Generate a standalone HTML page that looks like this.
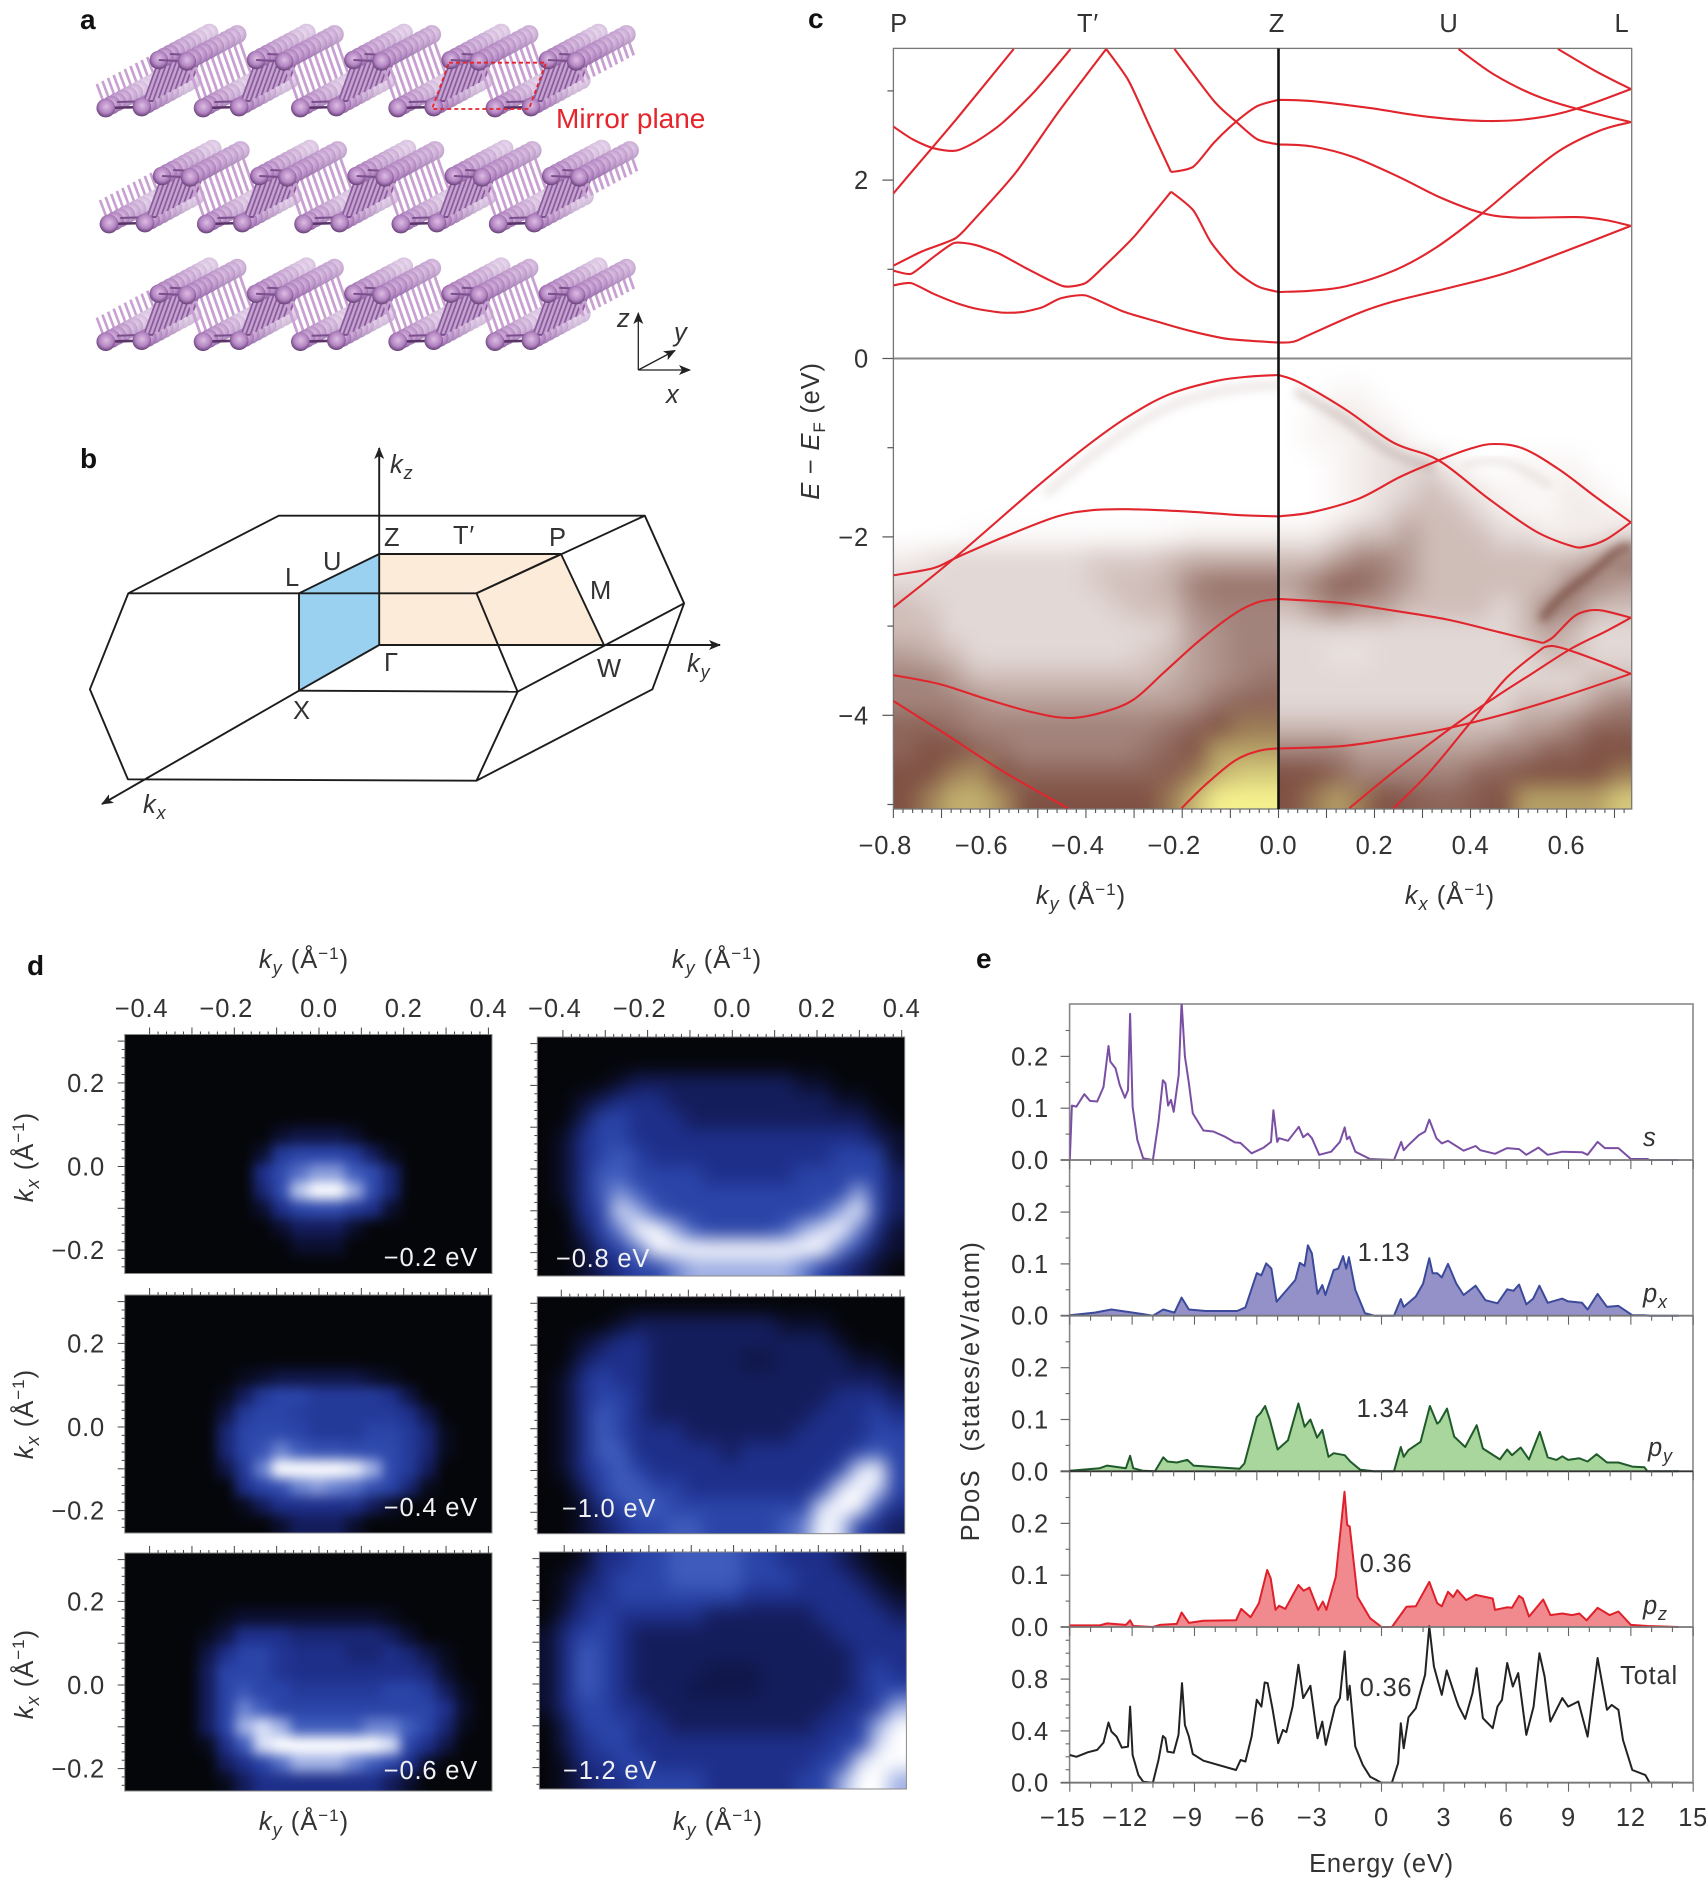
<!DOCTYPE html>
<html lang="en">
<head>
<meta charset="utf-8">
<title>Band structure of black phosphorus figure</title>
<style>
html,body{margin:0;padding:0;background:#fff}
svg{display:block;font-family:"Liberation Sans",sans-serif}
.t{font-size:25.5px;fill:#333;letter-spacing:.8px}
.ti{font-size:25.5px;fill:#333;letter-spacing:1px}
.sub{font-size:18px;font-style:italic}
.sup{font-size:17px}
.i{font-style:italic}
.b{font-size:28px;font-weight:bold;fill:#111}
.w{font-size:25.5px;fill:#f2f2f2;letter-spacing:.8px}
</style>
</head>
<body>
<svg id="fig" xmlns="http://www.w3.org/2000/svg" width="1706" height="1880" viewBox="0 0 1706 1880">
<defs id="defs">
  <filter id="blurC" x="-20%" y="-20%" width="140%" height="140%" color-interpolation-filters="sRGB"><feGaussianBlur stdDeviation="11"/></filter>
  <filter id="blurD" x="-20%" y="-20%" width="140%" height="140%" color-interpolation-filters="sRGB"><feGaussianBlur stdDeviation="6"/></filter>
  <filter id="blurD2" x="-20%" y="-20%" width="140%" height="140%" color-interpolation-filters="sRGB"><feGaussianBlur stdDeviation="9"/></filter>
  <filter id="blurS" x="-20%" y="-20%" width="140%" height="140%" color-interpolation-filters="sRGB"><feGaussianBlur stdDeviation="4.5"/></filter>
  <clipPath id="clipCL"><rect x="893.4" y="358.5" width="385.1" height="450.5"/></clipPath>
  <clipPath id="clipCR"><rect x="1278.5" y="358.5" width="353.2" height="450.5"/></clipPath>
  <clipPath id="clipC"><rect x="893.4" y="48.4" width="738.3" height="760.6"/></clipPath>
  <clipPath id="clipE"><rect x="1069.6" y="1004" width="623.4" height="778.7"/></clipPath>
  <marker id="arrow" viewBox="0 0 12 10" refX="11" refY="5" markerWidth="12" markerHeight="10" markerUnits="userSpaceOnUse" orient="auto"><path d="M0 0L12 5L0 10L3 5Z" fill="#222"/></marker>
</defs>

<text class="b" x="80" y="29">a</text>
<text class="b" x="80" y="468">b</text>
<text class="b" x="808" y="28">c</text>
<text class="b" x="27" y="975">d</text>
<text class="b" x="976" y="968">e</text>

<g id="crystal"></g>
<g>
  <polygon points="449,62.7 546,62.7 529,109 432,109" fill="none" stroke="#e5252c" stroke-width="1.8" stroke-dasharray="4 3"/>
  <text x="556" y="128" font-size="28" fill="#e5252c">Mirror plane</text>
</g>
<g>
  <line x1="638.3" y1="370" x2="638.3" y2="313" stroke="#222" stroke-width="1.3" marker-end="url(#arrow)"/>
  <line x1="638.3" y1="370" x2="675" y2="350.5" stroke="#222" stroke-width="1.3" marker-end="url(#arrow)"/>
  <line x1="638.3" y1="370" x2="690" y2="370" stroke="#222" stroke-width="1.3" marker-end="url(#arrow)"/>
  <text class="t i" x="617" y="327">z</text><text class="t i" x="674" y="341">y</text><text class="t i" x="666" y="403">x</text>
</g>

<g id="bz">
  <polygon points="379.2,554 561,554 604,645 379.2,645" fill="#fdebd9"/>
  <polygon points="299,593.3 379.2,554 379.2,645 299,690.7" fill="#9ad0f0"/>
  <g fill="none" stroke="#1c1c1c" stroke-width="1.9" stroke-linejoin="round">
    <polyline points="128.3,593.3 278.8,515.7 644.8,515.7 476.5,593.3 128.3,593.3 89.9,689.3 127.9,779.3 476.5,780.7 517.6,691.7 476.5,593.3"/>
    <polyline points="644.8,515.7 684.1,603.3 652.4,689.3 476.5,780.7"/>
    <line x1="299" y1="690.7" x2="517.6" y2="691.7"/>
    <line x1="517.6" y1="691.7" x2="684.1" y2="603.3"/>
    <line x1="379.2" y1="554" x2="561" y2="554"/>
    <line x1="561" y1="554" x2="476.5" y2="593.3"/>
    <line x1="561" y1="554" x2="604" y2="645"/>
    <line x1="299" y1="593.3" x2="379.2" y2="554"/>
    <line x1="299" y1="593.3" x2="299" y2="690.7"/>
    <line x1="379.2" y1="645" x2="299" y2="690.7"/>
    <line x1="299" y1="690.7" x2="102" y2="804" marker-end="url(#arrow)"/>
    <line x1="379.2" y1="645" x2="379.2" y2="448" marker-end="url(#arrow)"/>
    <line x1="379.2" y1="645" x2="720" y2="645" marker-end="url(#arrow)"/>
  </g>
  <text class="t i" x="390" y="473">k<tspan class="sub" dy="6">z</tspan></text>
  <text class="t" x="384" y="546">Z</text>
  <text class="t" x="453" y="544">T′</text>
  <text class="t" x="549" y="546">P</text>
  <text class="t" x="323" y="570">U</text>
  <text class="t" x="285" y="586">L</text>
  <text class="t" x="590" y="599">M</text>
  <text class="t" x="384" y="671">Γ</text>
  <text class="t" x="597" y="677">W</text>
  <text class="t i" x="687" y="672">k<tspan class="sub" dy="6">y</tspan></text>
  <text class="t" x="293" y="719">X</text>
  <text class="t i" x="143" y="813">k<tspan class="sub" dy="6">x</tspan></text>
</g>

<g id="panelC"></g>
<g>
  <text class="t" x="899" y="32" text-anchor="middle">P</text>
  <text class="t" x="1088" y="32" text-anchor="middle">T′</text>
  <text class="t" x="1277" y="32" text-anchor="middle">Z</text>
  <text class="t" x="1449" y="32" text-anchor="middle">U</text>
  <text class="t" x="1622" y="32" text-anchor="middle">L</text>
  <text class="ti" x="1081" y="904" text-anchor="middle"><tspan class="i">k</tspan><tspan class="sub" dy="6">y</tspan><tspan dy="-6"> (Å</tspan><tspan class="sup" dy="-9">−1</tspan><tspan dy="9">)</tspan></text>
  <text class="ti" x="1450" y="904" text-anchor="middle"><tspan class="i">k</tspan><tspan class="sub" dy="6">x</tspan><tspan dy="-6"> (Å</tspan><tspan class="sup" dy="-9">−1</tspan><tspan dy="9">)</tspan></text>
  <text class="t" transform="translate(819 431) rotate(-90)" text-anchor="middle"><tspan class="i">E</tspan> − <tspan class="i">E</tspan><tspan font-size="17" dy="6">F</tspan><tspan dy="-6"> (eV)</tspan></text>
</g>

<g id="panelD"></g>
<g>
  <text class="ti" x="304" y="968" text-anchor="middle"><tspan class="i">k</tspan><tspan class="sub" dy="6">y</tspan><tspan dy="-6"> (Å</tspan><tspan class="sup" dy="-9">−1</tspan><tspan dy="9">)</tspan></text>
  <text class="ti" x="717" y="968" text-anchor="middle"><tspan class="i">k</tspan><tspan class="sub" dy="6">y</tspan><tspan dy="-6"> (Å</tspan><tspan class="sup" dy="-9">−1</tspan><tspan dy="9">)</tspan></text>
  <text class="ti" x="304" y="1830" text-anchor="middle"><tspan class="i">k</tspan><tspan class="sub" dy="6">y</tspan><tspan dy="-6"> (Å</tspan><tspan class="sup" dy="-9">−1</tspan><tspan dy="9">)</tspan></text>
  <text class="ti" x="718" y="1830" text-anchor="middle"><tspan class="i">k</tspan><tspan class="sub" dy="6">y</tspan><tspan dy="-6"> (Å</tspan><tspan class="sup" dy="-9">−1</tspan><tspan dy="9">)</tspan></text>
  <text class="ti" transform="translate(33 1157) rotate(-90)" text-anchor="middle"><tspan class="i">k</tspan><tspan class="sub" dy="6">x</tspan><tspan dy="-6"> (Å</tspan><tspan class="sup" dy="-9">−1</tspan><tspan dy="9">)</tspan></text>
  <text class="ti" transform="translate(33 1414) rotate(-90)" text-anchor="middle"><tspan class="i">k</tspan><tspan class="sub" dy="6">x</tspan><tspan dy="-6"> (Å</tspan><tspan class="sup" dy="-9">−1</tspan><tspan dy="9">)</tspan></text>
  <text class="ti" transform="translate(33 1674) rotate(-90)" text-anchor="middle"><tspan class="i">k</tspan><tspan class="sub" dy="6">x</tspan><tspan dy="-6"> (Å</tspan><tspan class="sup" dy="-9">−1</tspan><tspan dy="9">)</tspan></text>
</g>

<g id="panelE"></g>
<g>
  <text class="t" x="1381.5" y="1872" text-anchor="middle" font-size="26">Energy (eV)</text>
  <text class="t" style="letter-spacing:1.5px" transform="translate(979 1391) rotate(-90)" text-anchor="middle" xml:space="preserve">PDoS  (states/eV/atom)</text>
  <text class="t" x="1384" y="1261" text-anchor="middle">1.13</text>
  <text class="t" x="1383" y="1417" text-anchor="middle">1.34</text>
  <text class="t" x="1386" y="1572" text-anchor="middle">0.36</text>
  <text class="t" x="1386" y="1696" text-anchor="middle">0.36</text>
  <text class="t i" x="1643" y="1146">s</text>
  <text class="t i" x="1643" y="1302">p<tspan class="sub" dy="6">x</tspan></text>
  <text class="t i" x="1648" y="1456">p<tspan class="sub" dy="6">y</tspan></text>
  <text class="t i" x="1643" y="1614">p<tspan class="sub" dy="6">z</tspan></text>
  <text class="t" x="1649" y="1684" text-anchor="middle">Total</text>
</g>
</svg>

<script>
/* ---------- panel c: band values (k in 1/Å, E in eV) ---------- */
const vbL1k=[-0.8,-0.68,-0.496,-0.398,-0.312,-0.226,-0.128,-0.054,0];
const vbL1e=[-2.79,-2.27,-1.41,-0.98,-0.65,-0.40,-0.25,-0.20,-0.185];
const vbL2k=[-0.8,-0.717,-0.668,-0.57,-0.459,-0.385,-0.312,-0.177,-0.079,0];
const vbL2e=[-2.43,-2.35,-2.23,-2.0,-1.77,-1.70,-1.69,-1.72,-1.757,-1.77];
const vbL3k=[-0.8,-0.704,-0.606,-0.508,-0.434,-0.361,-0.3,-0.238,-0.164,-0.091,-0.042,0];
const vbL3e=[-3.55,-3.65,-3.82,-3.97,-4.03,-3.96,-3.82,-3.52,-3.16,-2.86,-2.73,-2.695];
const vbL4k=[-0.8,-0.692,-0.569,-0.438];
const vbL4e=[-3.84,-4.21,-4.64,-5.04];
const vbL5k=[-0.201,-0.152,-0.091,-0.042,0];
const vbL5e=[-5.04,-4.78,-4.51,-4.40,-4.37];
const cbL1k=[-0.8,-0.763,-0.717,-0.668,-0.625,-0.575,-0.533,-0.49,-0.453,-0.401,-0.324,-0.25,-0.177,-0.103,0];
const cbL1e=[0.82,0.845,0.727,0.62,0.555,0.515,0.52,0.575,0.674,0.707,0.53,0.41,0.30,0.218,0.178];
const cbL2ak=[-0.8,-0.763,-0.717,-0.674,-0.631,-0.582,-0.52,-0.447,-0.401,-0.361,-0.3,-0.223];
const cbL2ae=[0.984,0.95,1.136,1.295,1.275,1.18,1.0,0.81,0.845,1.04,1.367,1.87];
const cbL2bk=[-0.223,-0.177,-0.14,-0.091,-0.042,0];
const cbL2be=[1.87,1.66,1.30,0.99,0.806,0.746];
const cbL3ak=[-0.8,-0.741,-0.671,-0.631,-0.545,-0.459,-0.358];
const cbL3ae=[1.04,1.2,1.347,1.565,2.09,2.75,3.47];
const cbL3bk=[-0.358,-0.312,-0.269,-0.223];
const cbL3be=[3.47,3.12,2.62,2.09];
const cbL3ck=[-0.223,-0.177,-0.134,-0.088,-0.044,0];
const cbL3ce=[2.09,2.15,2.42,2.655,2.83,2.9];
const cbL4k=[-0.8,-0.741,-0.668,-0.55];
const cbL4e=[1.85,2.226,2.69,3.47];
const cbL5k=[-0.8,-0.76,-0.717,-0.671,-0.627,-0.575,-0.508,-0.432];
const cbL5e=[2.6,2.457,2.358,2.33,2.437,2.635,2.985,3.47];
const cbL6k=[-0.216,-0.134,-0.088,-0.044,0];
const cbL6e=[3.47,2.886,2.655,2.457,2.4];
const vbR1k=[0,0.044,0.142,0.24,0.333,0.437,0.535,0.609,0.639,0.682,0.734];
const vbR1e=[-0.185,-0.27,-0.58,-0.945,-1.14,-1.57,-1.935,-2.1,-2.11,-2.03,-1.836];
const vbR2k=[0,0.069,0.167,0.253,0.333,0.4,0.449,0.51,0.584,0.658,0.734];
const vbR2e=[-1.77,-1.724,-1.572,-1.328,-1.143,-1.01,-0.958,-1.01,-1.242,-1.54,-1.836];
const vbR3ak=[0,0.13,0.24,0.351,0.461,0.551];
const vbR3ae=[-2.695,-2.74,-2.827,-2.926,-3.07,-3.19];
const vbR3bk=[0.551,0.572,0.615,0.645,0.676,0.734];
const vbR3be=[-3.19,-3.124,-2.893,-2.827,-2.827,-2.906];
const vbR4k=[0.148,0.253,0.375,0.455,0.523,0.609,0.682,0.734];
const vbR4e=[-5.04,-4.577,-4.08,-3.785,-3.55,-3.256,-3.058,-2.906];
const vbR5ak=[0.24,0.314,0.4,0.474,0.553];
const vbR5ae=[-5.04,-4.64,-4.08,-3.586,-3.236];
const vbR5bk=[0.553,0.572,0.609,0.682,0.734];
const vbR5be=[-3.236,-3.223,-3.276,-3.42,-3.534];
const vbR6k=[0,0.13,0.24,0.351,0.474,0.596,0.734];
const vbR6e=[-4.372,-4.346,-4.26,-4.148,-3.983,-3.785,-3.534];
const cbR1k=[0,0.032,0.069,0.167,0.24,0.351,0.474,0.596,0.734];
const cbR1e=[0.178,0.19,0.277,0.509,0.64,0.786,0.958,1.2,1.486];
const cbR2k=[0,0.069,0.142,0.24,0.326,0.425,0.498,0.584,0.67,0.734];
const cbR2e=[0.746,0.76,0.812,0.984,1.235,1.63,1.96,2.325,2.556,2.65];
const cbR3k=[0,0.069,0.155,0.253,0.339,0.425,0.498,0.621,0.682,0.734];
const cbR3e=[2.4,2.378,2.26,2.03,1.8,1.63,1.58,1.585,1.552,1.486];
const cbR4k=[0,0.069,0.191,0.314,0.437,0.535,0.621,0.734];
const cbR4e=[2.9,2.886,2.807,2.708,2.662,2.695,2.8,3.02];
const cbR5k=[0.375,0.449,0.535,0.621,0.734];
const cbR5e=[3.47,3.184,2.95,2.8,2.65];
const cbR6k=[0.582,0.658,0.734];
const cbR6e=[3.47,3.23,3.02];
const arpesStreakK=[0.548,0.59,0.66,0.708,0.736];
const arpesStreakE=[-2.93,-2.67,-2.37,-2.15,-2.11];
const bandTickK=[-0.8,-0.6,-0.4,-0.2,0,0.2,0.4,0.6];
const bandTickE=[2,0,-2,-4];

/* panel c: photoemission intensity rows (E = 0 downward) */
const arpesLeft=[
[0,0,0,0,0,0,0,0,0,0,0,0,0,0,0,0],
[0,0,0,0,0,0,0,0,0,0,0,0,0,0,0,0],
[0,0,0,0,0,0,0,0,0,0,0,0,0,0,0,0],
[0,0,0,0,0,0,0,0,0,0,0,0,0,0,0,0],
[0,0,0,0,0,0,0,0,0,0,0,0,0,0,0,0],
[0,0,0,0,0,0,0,0,0,0,0,0,0,0,0,0],
[0,0,0,0,0,0,0,0,0,0,0,0,0,0,0,0],
[0,0,0,0.3,0.3,0.3,0.3,0.3,0.3,0.3,0.3,0.5,0.8,0.8,0.8,0.8],
[1,1.5,2,2,2,2,2,2,2.5,2.5,2.5,3,3.5,3.5,3.5,3.5],
[2,2,2,2,2,2,2,2,2.5,3,3,3.5,5,5.5,5.5,5.5],
[3,2.5,2,2,2,2,2,2,2,2.5,3,3,4.5,5,5,5],
[3,3,2,2,2,2,2,2,2,2,2,2.5,4,4.5,5,5],
[4,3.5,3,2,2,2,2,2,2,2,2.5,3,4,4.5,5,5],
[5,5,4,3,3,3,3,3,3,3,3,3.5,4,4.5,5,5.5],
[5,5,5,4.5,4,4,4,4,4,4,4,4,4.5,5.5,6,6],
[6,6,5.5,5,5,5,5,5,5,5,5,5.5,6,7,7.5,7.5],
[6,7,7,6,5.5,5,5,5,5,5,5.5,6,7,8,8,8],
[7,7,7.6,7.8,7,6,6,6,6,6,6,6.5,7.5,8.2,8.5,8.5],
[7,7.6,8.2,8.2,7.8,7,7,7,7,7,7,7.5,8.3,9,9,9]];
const arpesRight=[
[0,0,0,0,0,0,0,0,0,0,0,0,0,0,0],
[0,0,0.5,0.5,0,0,0,0,0,0,0,0,0,0,0],
[0,0.5,1,1,0.5,0,0,0,0,0,0,0,0,0,0],
[0,0.5,0.5,1,1.5,0.5,0,0,0,0,0,0,0,0,0],
[0,0,0.5,1,1.5,2,2,0.5,0,0,0.5,0.5,0.5,0,0],
[0,0,0.5,1,1.5,2,3,2,1,0.5,0.5,0.5,1,0.5,0],
[0,0,0.5,1,2,3,3,3,2,1,0.5,0.5,1,1,0.5],
[1,1,2,3,3,4,3,3,3,2,2,1,1,1,2],
[3,3,4,5,5,4,3,3,3,3,3,3,3,4,5.5],
[4,5,6,6,5,4,3,3,3,3,3,3,5,5,4],
[3,4,5,4,4,3,3,3,3,2,3,5,5,3,3],
[2,2,2,2,2,2,2,2,2,2,3,4,3,2,2],
[2,2,1.5,1.5,2,2,2,2,2,2,2,3,3,2,2],
[2,2,2,2,2,2,2,2,2,2,2,2,2,3,3],
[2,2,2,2,2,2,2,2,2,2,3,3,3,4,5],
[3,3,3,3,3,3,3,3,3,3,4,4,5,6,6],
[5,5,5,4,4,4,4,4,4,5,5,6,6,7,7],
[7,7,6,5,5,5,5,5,6,6,7,7,7,7,7.5],
[7,7.5,8,7.5,7,6.5,6,6,6.5,7,8,8,8,8,8.5]];
const arpesLevels=['#ffffff','#f2ecea','#e2d8d5','#cfbdb8','#b89f98','#a2837b','#8e6559','#7f5144','#b5a066','#f5f18e'];

/* panel d: constant-energy map intensity rows */
const mapE02=[
[0,0,0,0,0,0,0,0,0,0,0,0,0,0,0,0,0,0,0,0],
[0,0,0,0,0,0,0,0,0,0,0,0,0,0,0,0,0,0,0,0],
[0,0,0,0,0,0,0,0,0,0,0,0,0,0,0,0,0,0,0,0],
[0,0,0,0,0,0,0,0,0,0,0,0,0,0,0,0,0,0,0,0],
[0,0,0,0,0,0,0,0,0,0,0,0,0,0,0,0,0,0,0,0],
[0,0,0,0,0,0,0,0,1,1.5,1.5,1.5,1,0,0,0,0,0,0,0],
[0,0,0,0,0,0,0,1,3.5,4,4,4,3.5,2,0.5,0,0,0,0,0],
[0,0,0,0,0,0,0,3,4.3,5.5,6.5,6.5,5,4.3,2.5,0,0,0,0,0],
[0,0,0,0,0,0,0,2.5,4.3,7.5,9,9,7,4.3,2.5,0,0,0,0,0],
[0,0,0,0,0,0,0,1,3,4,4.3,4.3,3.5,3,1,0,0,0,0,0],
[0,0,0,0,0,0,0,0,1,2,2,2,1,0,0,0,0,0,0,0],
[0,0,0,0,0,0,0,0,0,1,1,1,0,0,0,0,0,0,0,0],
[0,0,0,0,0,0,0,0,0,0,0,0,0,0,0,0,0,0,0,0]];
const mapE04=[
[0,0,0,0,0,0,0,0,0,0,0,0,0,0,0,0,0,0,0,0],
[0,0,0,0,0,0,0,0,0,0,0,0,0,0,0,0,0,0,0,0],
[0,0,0,0,0,0,0,0,0,0,0,0,0,0,0,0,0,0,0,0],
[0,0,0,0,0,0,0,0,0,0,0,0,0,0,0,0,0,0,0,0],
[0,0,0,0,0,0,0.5,1,1.5,1.5,1.5,1.5,1.5,1,0.5,0,0,0,0,0],
[0,0,0,0,0,0.5,2,3.5,4,4,3.5,3.5,3.5,3.5,3,1.5,0,0,0,0],
[0,0,0,0,0,1.5,3.5,4,4,3.7,3.5,3.5,3.5,3.5,3.5,3,1.5,0,0,0],
[0,0,0,0,0,2.5,4,4.2,4.2,4,3.5,3.5,3.5,4,4,3.5,2.5,0.5,0,0],
[0,0,0,0,0,2.5,4,4.6,6,5,4.5,4.5,4.3,4.3,4.2,3.5,2.5,0.5,0,0],
[0,0,0,0,0,1.5,3.5,6,9,9,9,9,8.5,7,4.2,3.5,2,0,0,0],
[0,0,0,0,0,0,3,4,4.5,6,6.5,6,5.5,4.5,4,2.5,0.5,0,0,0],
[0,0,0,0,0,0,0.5,2,3,3,3,3,3,2,1,0,0,0,0,0],
[0,0,0,0,0,0,0,0,1,2,2,2,1,0,0,0,0,0,0,0]];
const mapE06=[
[0,0,0,0,0,0,0,0,0,0,0,0,0,0,0,0,0,0,0,0],
[0,0,0,0,0,0,0,0,0,0,0,0,0,0,0,0,0,0,0,0],
[0,0,0,0,0,0,0,0,0,0,0,0,0,0,0,0,0,0,0,0],
[0,0,0,0,0,0.5,1,1,1,1,1,1,1,1,0.5,0,0,0,0,0],
[0,0,0,0,0.5,1.5,3,3,3,2.5,2.5,2.5,2.5,2.5,2,1,0,0,0,0],
[0,0,0,0,1.5,3,4,4,3.3,3,3,3,2.5,2.5,3,2.5,1.5,0.5,0,0],
[0,0,0,0,2,4,4,4,3.3,3,3,3,3,3,3,3,2.5,1,0,0],
[0,0,0,0,2,4,4.7,4,4,3.5,3.5,3.5,3.5,3.5,4,4,3.5,2,0.5,0],
[0,0,0,0,2,4,6,5,4,4,4,4,4,4,4,4,4,3,1,0],
[0,0,0,0,2,4,7,8,7,5,5,5,5,6,6,5,4,2.5,0.5,0],
[0,0,0,0,0.5,3,5,8,9,9,9,9,9,9,8,4,3,1.5,0,0],
[0,0,0,0,0,2,3,4,5.5,7,7,7,6,5,4,3,1,0,0,0],
[0,0,0,0,0,0.5,2,3,3,3,3,3,3,3,2,1,0,0,0,0]];
const mapE08=[
[0,0,0,0,0,0,0,0,0,0,0,0,0,0,0,0,0,0,0,0],
[0,0,0,0,0,0,0,0,0,0,0,0,0,0,0,0,0,0,0,0],
[0,0,0,0,1,2,2,2,2,2,2,2,2,2,1,1,0,0,0,0],
[0,0,1,2,3,3,3,2,2,2,2,2,2,2,2,2,1,1,0,0],
[0,0,2,4,4,3,3,3,2,2,2,2,2,2,2,2,2,2,1,0],
[0,1,3,4,4,3,3,3,3,3,3,3,3,3,3,3,3,3,2,1],
[0,1,3,4,5,4,3,3,3,3,3,3,3,3,3,3,4,4,4,1],
[0,1,3,5,5,4,4,4,4,3,3,3,3,3,4,4,4,4,4,2],
[0,1,3,5,6.5,5,4,4,4,4,4,4,4,4,4,4,4,7,4,2],
[0,0,3,4,8,7,5,4,4,4,4,4,4,4,4,5,7,8.5,4,2],
[0,0,2,4,6,9,9,7,5,4,4,4,4,5,7,8,9,6,3,1],
[0,0,1,3,4,6,9.5,9.5,9.5,9.5,9.5,9.5,9.5,9.5,9.5,9.5,6,4,2,1],
[0,0,1,2,3,4,4,6,7,7,7,7,7,7,6,4,3,2,1,0]];
const mapE10=[
[0,0,0,0,0,0,0,0,0,0,0,0,0,0,0,0,0,0,0,0],
[0,0,0,0,1,2,2,2,2,2,2,2,2,1,1,1,0,0,0,0],
[0,0,1,2,3,3,2,2,2,2,2,2,2,2,2,2,1,0,0,0],
[0,0,2,3,3,3,2,2,2,2,2,1.5,1.5,2,2,2,2,1,1,0],
[0,1,3,4,3,3,2,2,2,2,2,2,2,2,2,2,2,2,2,1],
[0,1,3,4,4,3,2,2,2,2,2,2,2,2,2,2,3,3,3,2],
[0,1,3,5,4,3,2,2,2,2,2,2,2,2,2,3,3,3,4,3],
[0,1,3,5,4,3,3,3,2,2,2,2,2,2,3,3,3,3,4,4],
[0,1,3,5,5,3,3,3,3,3,2,3,3,3,3,3,3,4,5,4],
[0,1,3,4,5,4,3,3,3,3,3,3,3,3,3,3,4,8,9,4],
[0,0,2,4,5,5,4,4,3,3,3,3,3,3,3,4,8,9.5,8,4],
[0,0,1,3,4,5,5,4,4,4,4,4,4,4,4,8,9.5,9.5,5,3],
[0,0,1,2,3,4,4,5,5,4,4,4,4,5,6,9,8,4,3,2]];
const mapE12=[
[0,0,1,3,3,4,4,5,5,5,5,4,4,3,3,3,2,1,0,0],
[0,1,2,3,4,4,4,5,5,5,5,4,4,4,3,3,3,2,1,0],
[0,1,3,3,4,4,4,4,4,4,4,3,3,3,3,3,3,3,2,1],
[0,2,3,4,3,3,3,3,3,2,2,2,2,2,2,3,3,3,3,2],
[1,3,4,4,3,2,2,2,2,2,2,2,2,2,2,2,3,3,3,3],
[1,3,5,4,3,2,2,2,2,2,2,2,2,2,2,2,2,3,3,3],
[1,3,5,4,3,2,2,2,2,1.6,1.6,1.6,2,2,2,2,2,3,4,3],
[1,3,5,4,3,2,2,2,1.6,1.6,1.6,1.6,2,2,2,2,2,3,4,4],
[1,3,4,4,3,3,2,2,2,2,2,2,2,2,2,2,3,3,4,7],
[0,2,4,4,4,3,3,2,2,2,2,2,2,2,2,3,3,4,7,9],
[0,2,3,4,4,3,3,3,3,3,3,3,3,3,3,3,4,4,8,9.5],
[0,1,3,3,4,4,3,3,3,3,3,3,3,3,3,4,4,8,9.5,9],
[0,1,2,3,3,4,4,4,4,3,3,3,3,3,4,4,7,9.5,9.5,7]];
const mapLevels=['#05060a','#0b0f2e','#141d5c','#1e2f8a','#2a44a8','#3f5cbc','#6a82d0','#a0b0e4','#d8dff6','#ffffff'];
const mapCaptions=['−0.2 eV','−0.4 eV','−0.6 eV','−0.8 eV','−1.0 eV','−1.2 eV'];
const mapTickK=[-0.4,-0.2,0,0.2,0.4];
const mapTickV=[0.2,0,-0.2];

/* panel e: projected density of states */
const sEnergy=[-15,-14.9,-14.68,-14.3,-14.03,-13.68,-13.38,-13.14,-13.05,-12.8,-12.6,-12.35,-12.2,-12.1,-11.98,-11.75,-11.47,-11,-10.73,-10.52,-10.4,-10.27,-10.13,-10,-9.76,-9.62,-9.46,-9.27,-9.08,-8.57,-8.1,-7.53,-7.06,-6.79,-6.25,-5.67,-5.32,-5.2,-5.02,-4.93,-4.5,-3.98,-3.77,-3.54,-3.35,-3,-2.42,-2,-1.77,-1.66,-1.54,-1.26,-0.56,0.6,0.95,1.07,1.3,1.8,2.1,2.3,2.64,2.9,3.2,3.95,4.53,4.76,5.46,6.04,6.62,6.97,7.55,8,8.7,9.65,9.92,10.4,10.75,11.4,12,12.8,12.9,14.3];
const sDos=[0,0.105,0.103,0.127,0.114,0.113,0.141,0.22,0.19,0.177,0.145,0.12,0.135,0.282,0.103,0.039,0.003,0,0.074,0.154,0.148,0.105,0.116,0.093,0.164,0.305,0.2,0.148,0.09,0.057,0.055,0.045,0.034,0.033,0.013,0.024,0.035,0.096,0.035,0.042,0.037,0.064,0.044,0.051,0.042,0.01,0.016,0.035,0.063,0.04,0.045,0.016,0.002,0,0.035,0.019,0.029,0.048,0.055,0.078,0.042,0.032,0.037,0.018,0.027,0.019,0.012,0.023,0.021,0.01,0.024,0.01,0.016,0.015,0.01,0.035,0.023,0.023,0.002,0.002,0,0];
const pxEnergy=[-15,-13.8,-13,-11.8,-11,-10.5,-9.96,-9.62,-9.27,-8.46,-6.95,-6.55,-6,-5.78,-5.55,-5.3,-5.05,-4.7,-4.15,-3.93,-3.7,-3.54,-3.35,-3.08,-2.85,-2.7,-2.3,-2.08,-1.85,-1.7,-1.57,-1.26,-0.8,-0.35,0.6,0.93,1.07,1.65,2,2.3,2.46,2.68,2.9,3.2,3.6,3.95,4.53,5,5.58,6.05,6.35,6.62,6.97,7.3,7.6,8,8.7,8.95,9.65,9.92,10.4,10.85,11.4,12.07,12.65,12.9,14.3];
const pxDos=[0.001,0.006,0.012,0.005,0,0.012,0.006,0.035,0.012,0.009,0.009,0.016,0.082,0.078,0.101,0.091,0.027,0.043,0.069,0.102,0.096,0.136,0.12,0.042,0.059,0.04,0.088,0.091,0.115,0.091,0.113,0.05,0.005,0,0,0.032,0.017,0.037,0.062,0.111,0.082,0.082,0.074,0.1,0.062,0.04,0.058,0.03,0.024,0.051,0.048,0.06,0.022,0.033,0.058,0.025,0.033,0.028,0.025,0.012,0.042,0.017,0.019,0.001,0.001,0,0];
const pyEnergy=[-15,-13.56,-13.2,-12.3,-12.1,-11.95,-11.47,-10.9,-10.5,-10.3,-9.85,-9.34,-9.04,-6.83,-6.6,-6,-5.83,-5.6,-5.37,-5,-4.5,-4,-3.7,-3.42,-3.1,-2.85,-2.55,-2.3,-1.77,-1.5,-1.03,-0.35,0.6,0.93,1.07,1.3,1.88,2.33,2.68,2.8,3.15,3.5,4.03,4.58,4.88,5.7,6.05,6.28,6.7,7.1,7.62,8,8.42,8.7,8.98,9.52,9.92,10.35,10.85,11.4,12.07,12.65,12.8,14.3];
const pyDos=[0.001,0.006,0.011,0.006,0.03,0.006,0.001,0,0.027,0.019,0.017,0.022,0.011,0.005,0.015,0.105,0.112,0.126,0.099,0.042,0.06,0.131,0.086,0.1,0.065,0.08,0.028,0.035,0.031,0.019,0.003,0,0,0.047,0.028,0.041,0.057,0.126,0.092,0.096,0.121,0.067,0.047,0.089,0.044,0.023,0.042,0.031,0.046,0.023,0.076,0.027,0.022,0.029,0.022,0.025,0.019,0.033,0.017,0.017,0.009,0.008,0,0];
const pzEnergy=[-15,-13.56,-13.2,-12.3,-12.1,-11.95,-11,-10.67,-9.85,-9.62,-9.27,-8.57,-7,-6.75,-6.3,-5.9,-5.5,-5.33,-5.1,-4.93,-4.63,-4,-3.75,-3.47,-3.05,-2.82,-2.65,-2.2,-1.78,-1.65,-1.53,-1.15,-0.55,0,0.5,1.2,1.65,2.3,2.68,2.9,3.2,3.45,3.65,4.07,4.53,5.35,5.46,6.05,6.28,6.62,6.8,7.1,7.78,8.13,8.7,9.17,9.52,9.87,10.4,10.98,11.4,12,12.8,14.3];
const pzDos=[0.003,0.003,0.007,0.004,0.013,0.002,0,0.004,0.006,0.028,0.008,0.012,0.013,0.035,0.019,0.046,0.11,0.094,0.033,0.041,0.035,0.081,0.07,0.076,0.033,0.049,0.033,0.097,0.261,0.197,0.194,0.058,0.017,0,0,0.039,0.04,0.087,0.046,0.04,0.068,0.058,0.071,0.052,0.062,0.055,0.033,0.038,0.037,0.06,0.055,0.02,0.053,0.023,0.026,0.023,0.026,0.013,0.037,0.023,0.03,0.004,0.002,0];
const totalEnergy=[-15,-14.68,-14.14,-13.68,-13.38,-13.14,-13,-12.75,-12.5,-12.2,-12.1,-11.98,-11.7,-11.47,-11,-10.73,-10.52,-10.4,-10.3,-10,-9.77,-9.6,-9.46,-9.27,-9.08,-8.57,-7,-6.78,-6.55,-6.25,-6,-5.78,-5.62,-5.48,-5.25,-4.97,-4.74,-4.58,-4.28,-4,-3.77,-3.42,-3.08,-2.85,-2.68,-2.24,-2,-1.77,-1.63,-1.53,-1.26,-0.9,-0.55,0,0.5,0.8,0.93,1.07,1.3,1.65,2.1,2.3,2.52,2.72,2.9,3.14,3.6,3.72,4.03,4.38,4.58,4.88,5.35,5.58,5.8,6.05,6.32,6.58,6.97,7.32,7.6,7.85,8.13,8.7,8.98,9.47,9.92,10.4,10.85,11.08,11.4,11.62,12.07,12.7,12.9,14.3];
const totalDos=[0.214,0.2,0.235,0.253,0.31,0.465,0.395,0.356,0.271,0.279,0.588,0.214,0.059,0.008,0,0.175,0.361,0.343,0.24,0.232,0.369,0.769,0.446,0.356,0.222,0.17,0.098,0.175,0.163,0.356,0.64,0.588,0.774,0.769,0.575,0.305,0.408,0.39,0.588,0.911,0.653,0.748,0.343,0.472,0.292,0.588,0.653,1.014,0.64,0.748,0.279,0.137,0.046,0,0,0.15,0.459,0.266,0.506,0.575,0.834,1.208,0.898,0.782,0.679,0.867,0.64,0.588,0.493,0.692,0.885,0.498,0.421,0.588,0.64,0.924,0.743,0.846,0.369,0.588,1,0.82,0.472,0.653,0.588,0.627,0.356,0.963,0.563,0.601,0.563,0.33,0.098,0.059,0,0];
const dosTickE=[-15,-12,-9,-6,-3,0,3,6,9,12,15];
const dosTickPartial=[0.2,0.1,0];
const dosTickTotal=[0.8,0.4,0];

/* ---------- helpers ---------- */
const NS='http://www.w3.org/2000/svg';
function mk(tag,attrs,parent,text){
  const e=document.createElementNS(NS,tag);
  for(const k in attrs){e.setAttribute(k,attrs[k]);}
  if(text!==undefined){e.textContent=text;}
  parent.appendChild(e);
  return e;
}
function fmt(v,d){const s=Math.abs(v).toFixed(d);return v<-1e-9?'−'+s:s;}
function hex(c){return [parseInt(c.slice(1,3),16),parseInt(c.slice(3,5),16),parseInt(c.slice(5,7),16)];}
function levelColor(v,levels){
  const t=Math.max(0,Math.min(levels.length-1,v));
  const i=Math.min(levels.length-2,Math.floor(t));
  const f=t-i,a=hex(levels[i]),b=hex(levels[i+1]);
  return 'rgb('+a.map((x,j)=>Math.round(x+(b[j]-x)*f)).join(',')+')';
}
function mix(c,f){const a=hex(c);return 'rgb('+a.map(x=>Math.round(x+(255-x)*f)).join(',')+')';}
function smooth(p,t){
  const q=t||6;
  let d='M'+p[0][0].toFixed(1)+' '+p[0][1].toFixed(1);
  for(let i=0;i<p.length-1;i++){
    const a=p[Math.max(0,i-1)],b=p[i],c=p[i+1],e=p[Math.min(p.length-1,i+2)];
    d+='C'+(b[0]+(c[0]-a[0])/q).toFixed(1)+' '+(b[1]+(c[1]-a[1])/q).toFixed(1)+' '+(c[0]-(e[0]-b[0])/q).toFixed(1)+' '+(c[1]-(e[1]-b[1])/q).toFixed(1)+' '+c[0].toFixed(1)+' '+c[1].toFixed(1);
  }
  return d;
}
function drawHeat(parent,rows,levels,x,y,w,h){
  const nr=rows.length,nc=rows[0].length,cw=w/nc,ch=h/nr;
  rows.forEach((row,r)=>row.forEach((v,c)=>{
    let cx=x+c*cw,cy=y+r*ch,ww=cw+1,hh=ch+1;
    if(c===0){cx-=40;ww+=40;}
    if(c===nc-1){ww+=40;}
    if(r===0){cy-=40;hh+=40;}
    if(r===nr-1){hh+=40;}
    const el=mk('rect',{x:cx.toFixed(1),y:cy.toFixed(1),width:ww.toFixed(1),height:hh.toFixed(1),fill:levelColor(v,levels)},parent);
    
    
  }));
}

/* ---------- panel a: crystal ---------- */
(function(){
  const root=document.getElementById('crystal');
  const defs=document.getElementById('defs');
  const STEPS=10,STEP=[5.6,-3];
  for(let lv=0;lv<=10;lv++){
    const g=mk('radialGradient',{id:'sph'+lv,cx:'.52',cy:'.42',r:'.6'},defs);
    const f=lv/10*.55;
    mk('stop',{offset:'0','stop-color':mix('#dcbde2',f)},g);
    mk('stop',{offset:'.6','stop-color':mix('#b384c2',f)},g);
    mk('stop',{offset:'1','stop-color':mix(lv===0?'#5f3a70':'#84589a',f)},g);
  }
  function chain(g,x,y,fade,r,rate){
    for(let i=STEPS-1;i>=0;i--){
      const f=Math.min(10,Math.round(Math.min(1,i/(STEPS-1)*rate)*fade*10));
      mk('circle',{cx:x+STEP[0]*i,cy:y+STEP[1]*i,r:r,fill:'url(#sph'+f+')'},g);
    }
  }
  function unit(ox,oy,col){
    const g=mk('g',{transform:'translate('+ox+' '+oy+')'},root);
    
    
    const A=[0,0],B=[36,-1],C=[53,-48],D=[81,-46.6],R=9.3;
    if(col===0){
      for(let i=0;i<STEPS;i++){
        mk('line',{x1:-9+STEP[0]*i,y1:-24+STEP[1]*i,x2:STEP[0]*i,y2:STEP[1]*i,stroke:'#c9a0d2','stroke-width':2.6},g);
      }
    }
    chain(g,A[0],A[1],1,R,1.3);
    chain(g,B[0],B[1],1,R,1.3);
    mk('polygon',{points:[C,[C[0]+STEP[0]*9,C[1]+STEP[1]*9],[B[0]+STEP[0]*9,B[1]+STEP[1]*9],B].map(p=>p.join(',')).join(' '),fill:'#c6a2d2'},g);
    for(let i=0;i<STEPS;i++){
      mk('line',{x1:C[0]+STEP[0]*i,y1:C[1]+STEP[1]*i,x2:B[0]+STEP[0]*i,y2:B[1]+STEP[1]*i,stroke:'#8a5d9b','stroke-width':1.8},g);
    }
    for(let i=0;i<STEPS;i++){
      const len=col===4?.45:1;
      mk('line',{x1:D[0]+STEP[0]*i,y1:D[1]+STEP[1]*i,x2:D[0]+STEP[0]*i+(97.3-D[0])*len,y2:D[1]+STEP[1]*i+(-D[1])*len,stroke:'#c9a0d2','stroke-width':2.8},g);
    }
    chain(g,C[0],C[1],1,R,1.1);
    [0,2].forEach(i=>{
      mk('line',{x1:C[0]+STEP[0]*i,y1:C[1]+STEP[1]*i,x2:D[0]+STEP[0]*i,y2:D[1]+STEP[1]*i,stroke:'#7a4f8c','stroke-width':2},g);
    });
    chain(g,D[0],D[1],.7,R,1);
    mk('line',{x1:A[0],y1:A[1],x2:B[0],y2:B[1],stroke:'#5a3468','stroke-width':2.6},g);
    mk('line',{x1:A[0]+STEP[0]*2,y1:A[1]+STEP[1]*2,x2:B[0]+STEP[0]*2,y2:B[1]+STEP[1]*2,stroke:'#7a4f8c','stroke-width':2},g);
    mk('circle',{cx:B[0],cy:B[1],r:R,fill:'url(#sph0)'},g);
    mk('circle',{cx:A[0],cy:A[1],r:R,fill:'url(#sph0)'},g);
  }
  [[105.8,108],[109,224],[105.8,341.7]].forEach(o=>{
    for(let c=0;c<5;c++){unit(o[0]+c*97.3,o[1],c);}
  });
})();

/* ---------- panel c ---------- */
(function(){
  const root=document.getElementById('panelC');
  const xK=k=>1278.5+(k<0?k*481.4:k*480);
  const yE=e=>358.5-89.2*e;
  const toPts=(ks,es)=>ks.map((k,i)=>[xK(k),yE(es[i])]);

  const hl=mk('g',{'clip-path':'url(#clipCL)'},root);
  
  
  const hlb=mk('g',{filter:'url(#blurC)'},hl);
  drawHeat(hlb,arpesLeft,arpesLevels,893.4,358.5,385.1,450.5);
  const hr=mk('g',{'clip-path':'url(#clipCR)'},root);
  
  
  const hrb=mk('g',{filter:'url(#blurC)'},hr);
  drawHeat(hrb,arpesRight,arpesLevels,1278.5,358.5,353.2,450.5);

  const sh1=mk('path',{d:smooth(toPts(vbL1k.slice(2),vbL1e.slice(2))),fill:'none',stroke:'#c8b8b4','stroke-width':9,opacity:.32,filter:'url(#blurS)',transform:'translate(5 10)'},hl);
  
  
  const sh2=mk('path',{d:smooth(toPts(vbR1k.slice(1,5),vbR1e.slice(1,5))),fill:'none',stroke:'#a58d87','stroke-width':10,opacity:.35,filter:'url(#blurS)',transform:'translate(-4 8)'},hr);
  
  
  const sh3=mk('path',{d:smooth(toPts(vbR2k.slice(5,9),vbR2e.slice(5,9))),fill:'none',stroke:'#b7a39e','stroke-width':5,opacity:.35,filter:'url(#blurS)',transform:'translate(-8 17)'},hr);
  
  
  const streak=mk('path',{d:smooth(toPts(arpesStreakK,arpesStreakE)),fill:'none',stroke:'#6f4034','stroke-width':8,opacity:.7,filter:'url(#blurS)'},hr);
  
  

  const frame=mk('rect',{x:893.4,y:48.4,width:738.3,height:760.6,fill:'none',stroke:'#777','stroke-width':1.3},root);
  
  
  const zero=mk('line',{x1:893.4,x2:1631.7,y1:yE(0),y2:yE(0),stroke:'#888','stroke-width':2},root);
  
  

  const bands=[[vbL1k,vbL1e,6],[vbL2k,vbL2e,6],[vbL3k,vbL3e,6],[vbL4k,vbL4e,6],[vbL5k,vbL5e,6],
    [cbL1k,cbL1e,10],[cbL2ak,cbL2ae,10],[cbL2bk,cbL2be,8],[cbL3ak,cbL3ae,10],[cbL3bk,cbL3be,8],[cbL3ck,cbL3ce,8],[cbL4k,cbL4e,8],[cbL5k,cbL5e,8],[cbL6k,cbL6e,8],
    [vbR1k,vbR1e,6],[vbR2k,vbR2e,6],[vbR3ak,vbR3ae,6],[vbR3bk,vbR3be,7],[vbR4k,vbR4e,6],[vbR5ak,vbR5ae,6],[vbR5bk,vbR5be,7],[vbR6k,vbR6e,6],
    [cbR1k,cbR1e,6],[cbR2k,cbR2e,6],[cbR3k,cbR3e,6],[cbR4k,cbR4e,6],[cbR5k,cbR5e,6],[cbR6k,cbR6e,6]];
  const bg=mk('g',{'clip-path':'url(#clipC)',fill:'none',stroke:'#e1252d','stroke-width':2.1},root);
  bands.forEach(b=>{
    const el=mk('path',{d:smooth(toPts(b[0],b[1]),b[2])},bg);
    
    
  });
  const zl=mk('line',{x1:xK(0),x2:xK(0),y1:48.4,y2:809,stroke:'#111','stroke-width':2.6},root);
  
  

  for(let e=-5;e<=3;e++){
    const len=e%2===0?11:6;
    const el=mk('line',{x1:893.4-len,x2:893.4,y1:yE(e),y2:yE(e),stroke:'#555','stroke-width':1.2},root);
    
    
  }
  for(let i=-40;i<=36;i++){
    const k=i*0.02,len=i%5===0?9:4;
    const el=mk('line',{x1:xK(k),x2:xK(k),y1:809,y2:809+len,stroke:'#555','stroke-width':1.1},root);
    
    
  }
  bandTickE.forEach(e=>{
    const el=mk('text',{x:869,y:yE(e)+9,'text-anchor':'end',class:'t'},root,fmt(e,0));
    
    
  });
  bandTickK.forEach(k=>{
    const el=mk('text',{x:xK(k)-(k<-1e-9?8:0),y:854,'text-anchor':'middle',class:'t'},root,fmt(k,1));
    
    
  });
})();

/* ---------- panel d ---------- */
(function(){
  const root=document.getElementById('panelD');
  const defs=document.getElementById('defs');
  const maps=[mapE02,mapE04,mapE06,mapE08,mapE10,mapE12];
  const boxes=[[124.7,1034.5,367.3,239,319],[124.7,1295,367.3,238,319],[124.7,1553,367.3,238,319],
               [537.3,1037,367.4,239,732.3],[537.3,1296.7,367.4,237,730.7],[539.4,1552,367,237,733.6]];
  const capPos=[[478,1266,'end'],[478,1516,'end'],[478,1779,'end'],[556,1267,'start'],[562,1517,'start'],[563,1779,'start']];
  maps.forEach((rows,idx)=>{
    const b=boxes[idx];
    const clip=mk('clipPath',{id:'clipD'+idx},defs);
    mk('rect',{x:b[0],y:b[1],width:b[2],height:b[3]},clip);
    const g=mk('g',{},root);
    
    
    const c=mk('g',{'clip-path':'url(#clipD'+idx+')'},g);
    mk('rect',{x:b[0],y:b[1],width:b[2],height:b[3],fill:'#05060a'},c);
    const bl=mk('g',{filter:idx<3?'url(#blurD)':'url(#blurD2)'},c);
    drawHeat(bl,rows,mapLevels,b[0],b[1],b[2],b[3]);
    mk('rect',{x:b[0],y:b[1],width:b[2],height:b[3],fill:'none',stroke:'#888','stroke-width':1},g);
    for(let i=-40;i<=40;i+=2){
      const x=b[4]+i/100*423.5;
      if(x<b[0]-1||x>b[0]+b[2]+1){continue;}
      const len=i%10===0?7:3;
      const el=mk('line',{x1:x,x2:x,y1:b[1]-len,y2:b[1],stroke:'#444','stroke-width':1},g);
      
      
    }
    const zeroY=b[1]+132;
    for(let i=-26;i<=32;i+=2){
      const y=zeroY-i/100*418;
      if(y<b[1]||y>b[1]+b[3]){continue;}
      const len=i%10===0?7:3;
      const el=mk('line',{x1:b[0]-len,x2:b[0],y1:y,y2:y,stroke:'#444','stroke-width':1},g);
      
      
    }
    if(idx<3){
      mapTickV.forEach(v=>{
        const el=mk('text',{x:105,y:zeroY-v*418+9,'text-anchor':'end',class:'t'},g,fmt(v,1));
        
        
      });
    }
    if(idx===0||idx===3){
      mapTickK.forEach(k=>{
        const el=mk('text',{x:b[4]+k*423.5-(k<-1e-9?8:0),y:1017,'text-anchor':'middle',class:'t'},g,fmt(k,1));
        
        
      });
    }
    const cap=mk('text',{x:capPos[idx][0],y:capPos[idx][1],'text-anchor':capPos[idx][2],class:'w'},g,mapCaptions[idx]);
    
    
  });
})();

/* ---------- panel e ---------- */
(function(){
  const root=document.getElementById('panelE');
  const L=1069.6,R=1693,TOP=1004;
  const xE=e=>1381.5+e*20.78;
  const bases=[1160,1315.7,1471.3,1627,1782.7];
  const yPartial=(v,b)=>b-v*518;
  const yTotal=(v,b)=>b-v*129.5;
  const frame=mk('rect',{x:L,y:TOP,width:R-L,height:bases[4]-TOP,fill:'none',stroke:'#888','stroke-width':1.6},root);
  
  
  const series=[
    [sEnergy,sDos,bases[0],yPartial,'none','#7a4fa3'],
    [pxEnergy,pxDos,bases[1],yPartial,'#9490c8','#3b4a9a'],
    [pyEnergy,pyDos,bases[2],yPartial,'#a9d69c','#1f5a2a'],
    [pzEnergy,pzDos,bases[3],yPartial,'#f08a8f','#e0202a'],
    [totalEnergy,totalDos,bases[4],yTotal,'none','#222222']];
  const clipG=mk('g',{'clip-path':'url(#clipE)'},root);
  series.forEach(s=>{
    const pts=s[0].map((e,i)=>xE(e).toFixed(1)+','+s[3](s[1][i],s[2]).toFixed(1));
    if(s[4]!=='none'){
      const area=mk('polygon',{points:xE(s[0][0]).toFixed(1)+','+s[2]+' '+pts.join(' ')+' '+xE(s[0][s[0].length-1]).toFixed(1)+','+s[2],fill:s[4]},clipG);
      
      
    }
    const line=mk('polyline',{points:pts.join(' '),fill:'none',stroke:s[5],'stroke-width':2,'stroke-linejoin':'round'},clipG);
    
    
  });
  bases.forEach((b,pi)=>{
    const base=mk('line',{x1:L-9,x2:R,y1:b,y2:b,stroke:pi===2?'#333':'#777','stroke-width':1.8},root);
    
    
    for(let e=-15;e<=15;e++){
      const len=e%3===0?9:5;
      const el=mk('line',{x1:xE(e),x2:xE(e),y1:b,y2:b+len,stroke:'#666','stroke-width':1.1},root);
      
      
    }
    const scale=pi===4?yTotal:yPartial;
    const ticks=pi===4?dosTickTotal:dosTickPartial;
    const minor=pi===4?[0.1,0.2,0.3,0.5,0.6,0.7,0.9,1.0,1.1]:[0.05,0.15,0.25];
    ticks.forEach(v=>{
      const y=scale(v,b);
      const el=mk('line',{x1:L-9,x2:L,y1:y,y2:y,stroke:'#666','stroke-width':1.2},root);
      
      
      const lb=mk('text',{x:1049,y:y+9,'text-anchor':'end',class:'t'},root,v.toFixed(1));
      
      
    });
    minor.forEach(v=>{
      const y=scale(v,b);
      const el=mk('line',{x1:L-4,x2:L,y1:y,y2:y,stroke:'#666','stroke-width':1.1},root);
      
      
    });
  });
  dosTickE.forEach(e=>{
    const el=mk('text',{x:xE(e)-(e<0?7:0),y:1826,'text-anchor':'middle',class:'t'},root,fmt(e,0));
    
    
  });
})();
</script>
</body>
</html>
